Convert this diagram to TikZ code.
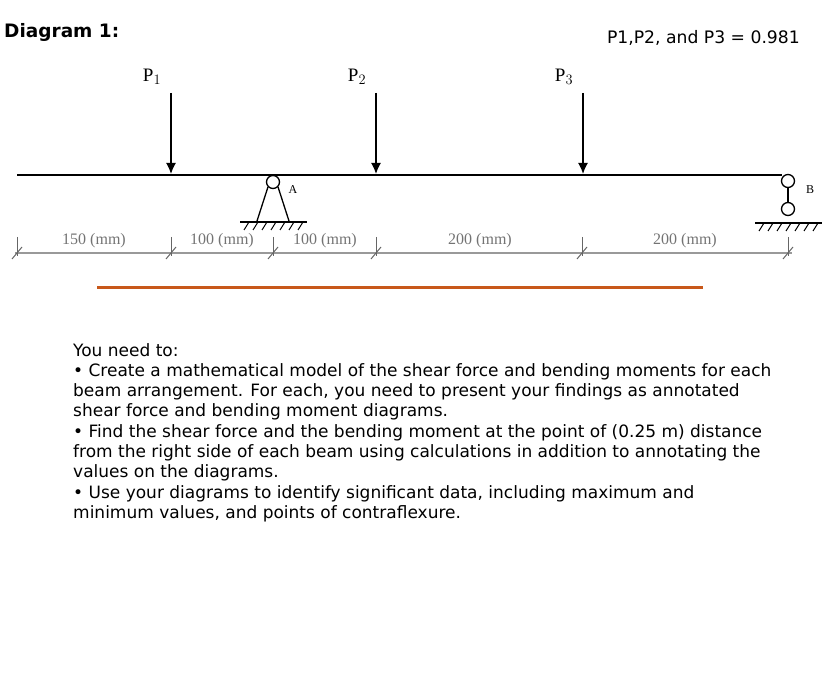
\documentclass[tikz,border=0pt]{standalone}
\usepackage{fontspec}
\setmainfont{Liberation Serif}
\newfontfamily\vfont{DejaVu Sans}
\usetikzlibrary{arrows.meta}
\begin{document}
\begin{tikzpicture}[x=1pt,y=-1pt,
  dimlbl/.style={text=gray!90!black,font=\fontsize{16}{18}\selectfont,inner sep=1pt},
  body/.style={anchor=base west,font=\vfont\fontsize{17}{20}\selectfont,inner sep=0pt},
  load/.style={-{Latex[length=11pt,width=10pt]},line width=1.6pt},
  plbl/.style={font=\fontsize{19}{21}\selectfont,inner sep=0pt},
  pin/.style={draw,circle,line width=1.3pt,minimum size=13pt,inner sep=0pt,fill=white}]
\useasboundingbox (0,0) rectangle (830,687);
% title
\node[anchor=base west,inner sep=0pt,font=\vfont\bfseries\fontsize{18.5}{21}\selectfont] (title) at (4,38) {Diagram 1:};
\node[anchor=base east,inner sep=0pt,font=\vfont\fontsize{17.2}{20}\selectfont] (pv) at (800,44) {P1,P2, and P3 = 0.981};
% beam
\coordinate (L) at (17,175);
\coordinate (R) at (782,175);
\draw[line width=1.8pt] (L) -- (R);
% loads
\foreach \n/\x/\i in {p1/171/1,p2/376/2,p3/583/3}{
  \coordinate (\n t) at (\x,93);
  \coordinate (\n b) at (\x,174);
  \draw[load] (\n t) -- (\n b);
  \node[plbl] (\n l) at (\x-19,77) {P$_{\i}$};
}
% support A
\node[pin] (ca) at (273,182) {};
\coordinate (ta1) at (257,221); \coordinate (ta2) at (289,221);
\draw[line width=1.3pt] (ca.south west) -- (ta1) (ca.south east) -- (ta2);
\draw[line width=1.3pt] (240,222) -- (307,222);
\foreach \x in {249,258,...,303}{\draw[line width=1pt] (\x,222) -- (\x-5,230);}
\node[font=\fontsize{12}{14}\selectfont,inner sep=0pt] (A) at (293,190) {A};
% support B
\node[pin] (cb1) at (788,181) {};
\node[pin] (cb2) at (788,209) {};
\draw[line width=1.3pt] (cb1) -- (cb2);
\draw[line width=1.3pt] (755,223) -- (822,223);
\foreach \x in {764,773,...,818}{\draw[line width=1pt] (\x,223) -- (\x-5,231);}
\node[font=\fontsize{12}{14}\selectfont,inner sep=0pt] (B) at (810,190) {B};
% dimension line
\draw[gray!80,line width=1.3pt] (15,253) -- (792,253);
\foreach \x in {17,171,273,376,582,788}{
  \draw[gray!80!black,line width=1pt] (\x,237) -- (\x,256);
  \draw[gray!80!black,line width=1pt] (\x-5,259) -- (\x+5,247);
}
\node[dimlbl] (d1) at (94,241) {150 (mm)};
\node[dimlbl] (d2) at (222,241) {100 (mm)};
\node[dimlbl] (d3) at (325,241) {100 (mm)};
\node[dimlbl] (d4) at (480,241) {200 (mm)};
\node[dimlbl] (d5) at (685,241) {200 (mm)};
% orange rule
\draw[line width=3pt,color={rgb,255:red,200;green,88;blue,26}] (97,287) -- (703,287);
% text
\node[body] (t1) at (73,356) {You need to:};
\node[body] (t2) at (73,376) {\textbullet\ Create a mathematical model of the shear force and bending moments for each};
\node[body] (t3) at (73,396) {beam arrangement. For each, you need to present your findings as annotated};
\node[body] (t4) at (73,416) {shear force and bending moment diagrams.};
\node[body] (t5) at (73,437) {\textbullet\ Find the shear force and the bending moment at the point of (0.25 m) distance};
\node[body] (t6) at (73,457) {from the right side of each beam using calculations in addition to annotating the};
\node[body] (t7) at (73,477) {values on the diagrams.};
\node[body] (t8) at (73,498) {\textbullet\ Use your diagrams to identify significant data, including maximum and};
\node[body] (t9) at (73,518) {minimum values, and points of contraflexure.};
\end{tikzpicture}
\end{document}
